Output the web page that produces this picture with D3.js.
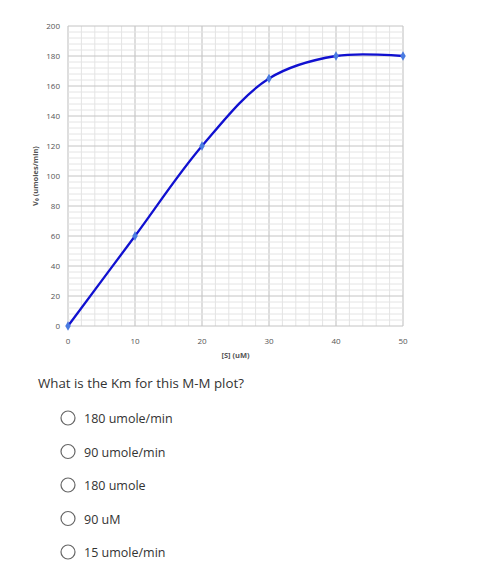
<!DOCTYPE html>
<html><head><meta charset="utf-8">
<script src="https://cdn.jsdelivr.net/npm/d3@7"></script>
<style>body{margin:0;background:#fff;font-family:"Open Sans",sans-serif}</style>
</head><body><div id="chart"></div>
<script>
const substrate = [0, 10, 20, 30, 40, 50];
const velocity = [0, 60, 120, 165, 180, 180];
const xTicks = [0, 10, 20, 30, 40, 50];
const yTicks = [0, 20, 40, 60, 80, 100, 120, 140, 160, 180, 200];
const options = ["180 umole/min", "90 umole/min", "180 umole", "90 uM", "15 umole/min"];

const width = 477, height = 568;
const svg = d3.select("#chart").append("svg").attr("width", width).attr("height", height);

const x = d3.scaleLinear().domain([0, 50]).range([68, 403]);
const y = d3.scaleLinear().domain([0, 200]).range([326, 26]);

// grid: minor then major
const grid = svg.append("g");
d3.range(0, 50.1, 2).forEach(v => grid.append("line")
  .attr("x1", x(v)).attr("x2", x(v)).attr("y1", y(0)).attr("y2", y(200))
  .attr("stroke", v % 10 === 0 ? "#bdbdbd" : "#e4e4e4").attr("stroke-width", 1));
d3.range(0, 200.1, 4).forEach(v => grid.append("line")
  .attr("y1", y(v)).attr("y2", y(v)).attr("x1", x(0)).attr("x2", x(50))
  .attr("stroke", v % 20 === 0 ? "#c4c4c4" : "#e4e4e4").attr("stroke-width", 1));

// tick labels
svg.append("g").selectAll("text").data(xTicks).join("text")
  .attr("x", d => x(d)).attr("y", 344).attr("text-anchor", "middle")
  .style("font-size", "8px").style("fill", "#555").text(d => d);
svg.append("g").selectAll("text").data(yTicks).join("text")
  .attr("x", 60).attr("y", d => y(d) + 3).attr("text-anchor", "end")
  .style("font-size", "8px").style("fill", "#555").text(d => d);

svg.append("text").attr("x", x(25)).attr("y", 358).attr("text-anchor", "middle")
  .style("font-size", "7.5px").style("font-weight", "700").style("fill", "#555").text("[S] (uM)");
svg.append("text").attr("transform", `translate(38,${y(100)}) rotate(-90)`).attr("text-anchor", "middle")
  .style("font-size", "7.5px").style("font-weight", "700").style("fill", "#555").text("V₀ (umoles/min)");

const pts = substrate.map((s, i) => [s, velocity[i]]);
svg.append("path").datum(pts)
  .attr("d", d3.line().x(d => x(d[0])).y(d => y(d[1])).curve(d3.curveCatmullRom.alpha(0.5)))
  .attr("fill", "none").attr("stroke", "#1010d0").attr("stroke-width", 2.3);
svg.append("g").selectAll("path").data(pts).join("path")
  .attr("d", d3.symbol(d3.symbolDiamond, 26)())
  .attr("transform", d => `translate(${x(d[0])},${y(d[1])})`)
  .attr("fill", "#4a7be0");

// question
svg.append("text").attr("x", 38).attr("y", 388).style("font-size", "13.3px").style("fill", "#333")
  .text("What is the Km for this M-M plot?");
const opt = svg.append("g").selectAll("g").data(options).join("g")
  .attr("transform", (d, i) => `translate(0,${418 + i * 33.5})`);
opt.append("circle").attr("cx", 68).attr("cy", 0).attr("r", 7)
  .attr("fill", "#fff").attr("stroke", "#666").attr("stroke-width", 1.2);
opt.append("text").attr("x", 84).attr("y", 5).style("font-size", "12.5px").style("fill", "#333").text(d => d);
</script></body></html>
